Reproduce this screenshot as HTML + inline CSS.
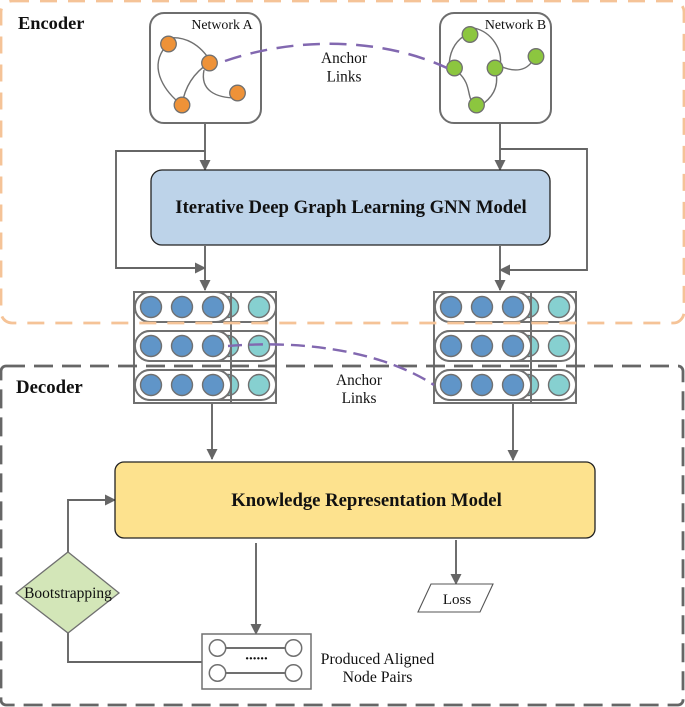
<!DOCTYPE html>
<html><head><meta charset="utf-8"><style>
html,body{margin:0;padding:0;background:#fff}
svg{display:block}
text{font-family:"Liberation Serif",serif;fill:#111}
</style></head><body>
<svg width="685" height="707" viewBox="0 0 685 707" xmlns="http://www.w3.org/2000/svg">
<defs>
<marker id="a" markerUnits="userSpaceOnUse" markerWidth="12" markerHeight="12" refX="10" refY="5.5" orient="auto"><path d="M0 0L11 5.5L0 11z" fill="#666"/></marker>
<g id="row">
 <rect x="1" y="1" width="141" height="30" rx="15" fill="#fff" stroke="#707070" stroke-width="1.9"/>
 <circle cx="94" cy="16" r="10.5" fill="#86d0d0" stroke="#707070" stroke-width="1.4"/>
 <circle cx="125" cy="16" r="10.5" fill="#86d0d0" stroke="#707070" stroke-width="1.4"/>
 <rect x="1" y="1" width="96" height="30" rx="15" fill="#fff" stroke="#707070" stroke-width="1.9"/>
 <circle cx="17" cy="16" r="10.5" fill="#6095c8" stroke="#707070" stroke-width="1.4"/>
 <circle cx="48" cy="16" r="10.5" fill="#6095c8" stroke="#707070" stroke-width="1.4"/>
 <circle cx="79" cy="16" r="10.5" fill="#6095c8" stroke="#707070" stroke-width="1.4"/>
</g>
<g id="stack">
 <use href="#row" y="-1"/><use href="#row" y="38"/><use href="#row" y="77"/>
 <rect x="0" y="0" width="142" height="111" fill="none" stroke="#707070" stroke-width="2"/>
 <path d="M97 0V111" stroke="#707070" stroke-width="2"/>
</g>
</defs>
<rect width="685" height="707" fill="#fff"/>

<!-- Network A -->
<rect x="150" y="13" width="111" height="110" rx="14" fill="#fff" stroke="#6e6e6e" stroke-width="2"/>
<g fill="none" stroke="#707070" stroke-width="1.4">
<path d="M168 38C185 36 200 44 211 62"/>
<path d="M163 50C150 70 165 92 182 105"/>
<path d="M209 63C195 72 185 85 182 105"/>
<path d="M204 70C200 90 215 98 237 98"/>
</g>
<g fill="#ee9238" stroke="#707070" stroke-width="1.3">
<circle cx="168.5" cy="44" r="7.8"/><circle cx="209.5" cy="63" r="7.8"/><circle cx="237.5" cy="93" r="7.8"/><circle cx="182" cy="105" r="7.8"/>
</g>
<text x="222" y="29" font-size="13.9" text-anchor="middle">Network A</text>

<!-- Network B -->
<rect x="440" y="13" width="111" height="110" rx="14" fill="#fff" stroke="#6e6e6e" stroke-width="2"/>
<g fill="none" stroke="#707070" stroke-width="1.4">
<path d="M464 36C452 44 449 56 449 68"/>
<path d="M474 28C492 32 503 50 500 66"/>
<path d="M458 72C472 85 466 95 474 105"/>
<path d="M496 72C499 88 492 98 480 106"/>
<path d="M500 66C515 73 528 71 534 58"/>
</g>
<g fill="#8cc63f" stroke="#707070" stroke-width="1.3">
<circle cx="470" cy="34.5" r="7.8"/><circle cx="454.5" cy="68" r="7.8"/><circle cx="495" cy="68" r="7.8"/><circle cx="536" cy="56.5" r="7.8"/><circle cx="476.5" cy="105" r="7.8"/>
</g>
<text x="515.5" y="29" font-size="13.9" text-anchor="middle">Network B</text>

<path d="M225 61C295 37 380 37 447 68" fill="none" stroke="#8268b0" stroke-width="2.5" stroke-dasharray="17 9.6"/>
<text x="344" y="63" font-size="15.3" text-anchor="middle">Anchor</text>
<text x="344" y="81.5" font-size="15.3" text-anchor="middle">Links</text>

<!-- Connectors -->
<g fill="none" stroke="#666" stroke-width="1.9" marker-end="url(#a)">
<path d="M205 124V170"/>
<path d="M500 124V170"/>
<path d="M205 151H116V268H205"/>
<path d="M500 149H587V270H500"/>
<path d="M205 246V290"/>
<path d="M500 246V290"/>
<path d="M212 404V459"/>
<path d="M513 404V460"/>
<path d="M256 543V634"/>
<path d="M456 540V584"/>
<path d="M68 552V500H115"/>
</g>
<path d="M68 633V662H202" fill="none" stroke="#666" stroke-width="1.9"/>

<!-- GNN box -->
<rect x="151" y="170" width="399" height="75" rx="11" fill="#bdd3e9" stroke="#222" stroke-width="1.3"/>
<text x="351" y="213" font-size="18.7" font-weight="bold" text-anchor="middle">Iterative Deep Graph Learning GNN Model</text>

<!-- Stacks -->
<use href="#stack" x="134" y="292"/>
<use href="#stack" x="434" y="292"/>

<!-- Encoder / Decoder frames -->
<rect x="1" y="1" width="683" height="322" rx="11" fill="none" stroke="#f5c397" stroke-width="2.8" stroke-dasharray="17 11"/>
<rect x="1" y="366" width="682" height="339" rx="5" fill="none" stroke="#666" stroke-width="2.8" stroke-dasharray="19 9"/>
<text x="18" y="29" font-size="18.4" font-weight="bold">Encoder</text>
<text x="16" y="393" font-size="18.8" font-weight="bold">Decoder</text>

<path d="M228 346C300 340 380 350 434 385" fill="none" stroke="#8268b0" stroke-width="2.4" stroke-dasharray="14 7"/>
<text x="359" y="385" font-size="15.3" text-anchor="middle">Anchor</text>
<text x="359" y="403" font-size="15.3" text-anchor="middle">Links</text>

<!-- Knowledge box -->
<rect x="115" y="462" width="480" height="76" rx="9" fill="#fde28e" stroke="#222" stroke-width="1.3"/>
<text x="366.5" y="506" font-size="18.7" font-weight="bold" text-anchor="middle">Knowledge Representation Model</text>

<!-- Bootstrapping -->
<path d="M68 552L119 593L68 633L16 593z" fill="#d3e6b8" stroke="#707070" stroke-width="1.3"/>
<text x="68" y="598" font-size="15.5" text-anchor="middle">Bootstrapping</text>

<!-- Pairs -->
<rect x="202" y="634" width="109" height="55" fill="#fff" stroke="#707070" stroke-width="1.5"/>
<g fill="#fff" stroke="#707070" stroke-width="1.5">
<path d="M226 648H285M226 673H285" stroke-width="1.9"/>
<circle cx="217.5" cy="648" r="8.2"/><circle cx="293.5" cy="648" r="8.2"/>
<circle cx="217.5" cy="673" r="8.2"/><circle cx="293.5" cy="673" r="8.2"/>
</g>
<text x="256.5" y="659.5" font-size="15" font-weight="bold" text-anchor="middle">......</text>
<text x="377.5" y="664" font-size="15.8" text-anchor="middle">Produced Aligned</text>
<text x="377.5" y="682" font-size="15.8" text-anchor="middle">Node Pairs</text>

<!-- Loss -->
<path d="M431 584H493L480 612H418z" fill="#fff" stroke="#555" stroke-width="1.1"/>
<text x="457" y="604" font-size="15" text-anchor="middle">Loss</text>
</svg>
</body></html>
